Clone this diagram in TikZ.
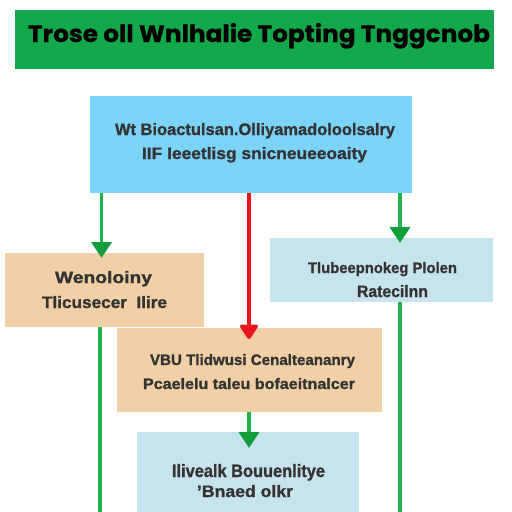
\documentclass[tikz,border=0pt]{standalone}
\usepackage{fontspec}
\setmainfont{Liberation Sans}[BoldFeatures={FakeBold=1.2}]
\newfontfamily\titlefont{Poppins}[BoldFeatures={FakeBold=0.8}]
\usetikzlibrary{arrows.meta}
\definecolor{titlegreen}{HTML}{12A84B}
\definecolor{topblue}{HTML}{7CD3F8}
\definecolor{tanfill}{HTML}{F1CFA7}
\definecolor{paleblue}{HTML}{C6E3EE}
\definecolor{argreen}{HTML}{22B24C}
\definecolor{tipgreen}{HTML}{109E3C}
\definecolor{arred}{HTML}{E8161C}
\definecolor{txtgray}{HTML}{333333}
\newcommand{\fitline}[3]{\resizebox{#1pt}{#2pt}{\textbf{#3}}}
\newcommand{\fittitle}[3]{\resizebox{#1pt}{#2pt}{\titlefont\bfseries #3}}
\begin{document}
\begin{tikzpicture}[x=1pt,y=-1pt,
  boxnode/.style={draw=none,inner sep=0pt,outer sep=0pt,anchor=north west},
  txtnode/.style={inner sep=0pt,outer sep=0pt,anchor=base,text=txtgray},
  garrow/.style={draw=argreen,line width=3.5pt,-{Triangle[width=20pt,length=16pt,fill=tipgreen,color=tipgreen]}},
  rarrow/.style={draw=arred,line width=3.5pt,-{Triangle[width=20pt,length=16pt,round]}},
  gline/.style={draw=argreen,line width=3.5pt}]
\useasboundingbox (0,0) rectangle (512,512);
\fill[white] (0,0) rectangle (512,512);
% boxes
\node[boxnode,fill=titlegreen,minimum width=479pt,minimum height=59pt] (title) at (15,10) {};
\node[boxnode,fill=topblue,minimum width=322pt,minimum height=97pt] (top) at (90,96) {};
\node[boxnode,fill=tanfill,minimum width=199pt,minimum height=74pt] (lt) at (5,253) {};
\node[boxnode,fill=tanfill,minimum width=265pt,minimum height=84pt] (mid) at (117,328) {};
\node[boxnode,fill=paleblue,minimum width=223pt,minimum height=64pt] (rb) at (270,238) {};
\node[boxnode,fill=paleblue,minimum width=222pt,minimum height=80pt] (bot) at (137,432) {};
% texts
\node[txtnode,text=black] (titletxt) at (259,42) {\fittitle{462}{19}{Trose oll Wnlhalie Topting Tnggcnob}};
\node[txtnode] (top1) at (255,135) {\fitline{280}{12}{Wt Bioactulsan.Olliyamadoloolsalry}};
\node[txtnode] (top2) at (254.5,159) {\fitline{225}{12}{IIF Ieeetlisg snicneueeoaity}};
\node[txtnode] (lt1) at (103.5,283) {\fitline{97}{12}{Wenoloiny}};
\node[txtnode] (lt2) at (104.5,308) {\fitline{125}{12}{Tlicusecer \ Ilire}};
\node[txtnode] (mid1) at (252.5,365) {\fitline{205}{11}{VBU Tlidwusi Cenalteananry}};
\node[txtnode] (mid2) at (249,389) {\fitline{212}{11}{Pcaelelu taleu bofaeitnalcer}};
\node[txtnode] (rb1) at (382.5,273) {\fitline{149}{11}{Tlubeepnokeg Plolen}};
\node[txtnode] (rb2) at (392.5,297) {\fitline{71}{12}{Ratecilnn}};
\node[txtnode] (bot1) at (248.5,477) {\fitline{153}{13}{Ilivealk Bouuenlitye}};
\node[txtnode] (bot2) at (245,497) {\fitline{96}{12}{'Bnaed olkr}};
% free ends
\coordinate (leftend) at (100,512);
\coordinate (rightend) at (400,512);
% connectors
\draw[garrow,shorten >=-5pt] ([xshift=11.5pt]top.south west) -- ([xshift=96.5pt]lt.north west);
\draw[rarrow,shorten >=-11pt] ([xshift=159pt]top.south west) -- ([xshift=132pt]mid.north west);
\draw[garrow,shorten >=-5pt] ([xshift=310pt]top.south west) -- ([xshift=130pt]rb.north west);
\draw[garrow,shorten >=-16pt] ([xshift=132pt]mid.south west) -- ([xshift=112pt]bot.north west);
\draw[gline] ([xshift=95pt]lt.south west) -- (leftend);
\draw[gline] ([xshift=130pt]rb.south west) -- (rightend);
\end{tikzpicture}
\end{document}
